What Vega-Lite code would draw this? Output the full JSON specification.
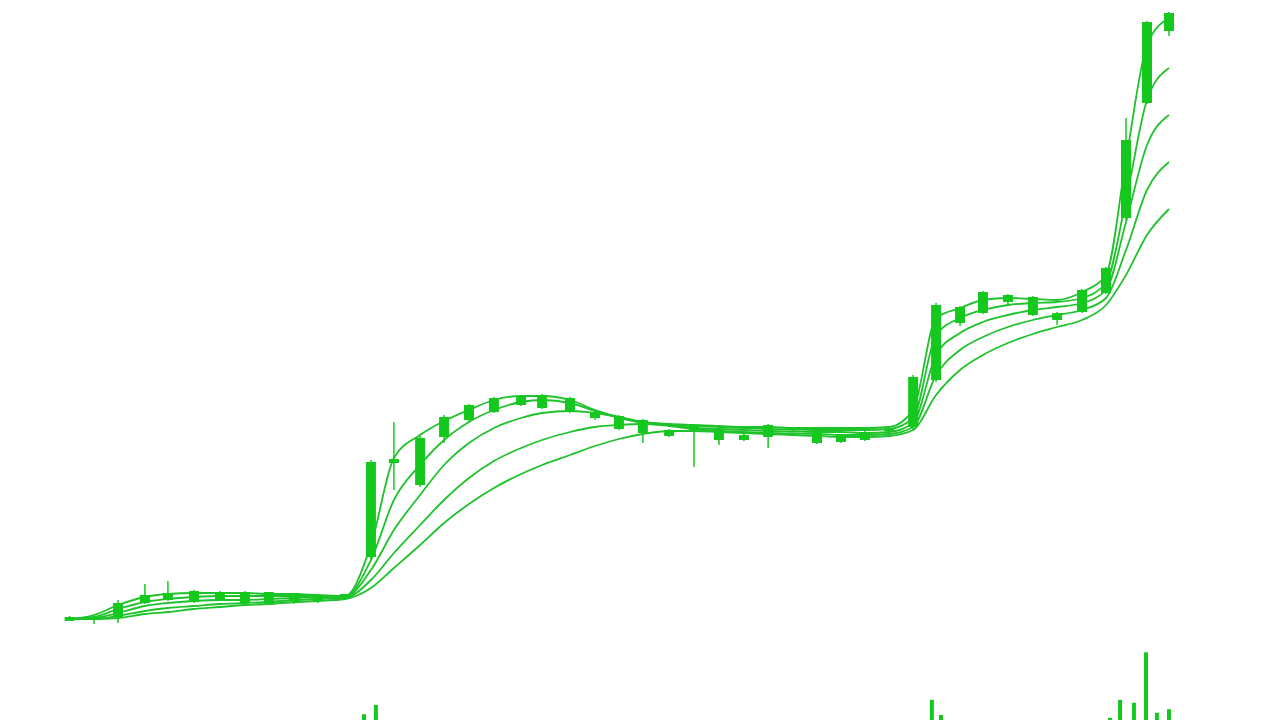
{
  "$schema": "https://vega.github.io/schema/vega-lite/v6.json",
  "width": 1280,
  "height": 720,
  "autosize": {"type": "fit", "contains": "padding"},
  "padding": 0,
  "background": "#ffffff",
  "config": {"view": {"stroke": null}, "scale": {"continuousPadding": 0}},
  "datasets": {
    "candles": [
      {"t":0,"o":9.9,"c":10.3,"h":10.4,"l":9.9,"ma5":10.1,"ma10":10.1,"ma20":10.1,"ma30":10.1,"ma60":10.1},
      {"t":0.99,"o":10.0,"c":10.3,"h":10.3,"l":9.6,"ma5":10.5,"ma10":10.3,"ma20":10.2,"ma30":10.1,"ma60":10.1},
      {"t":1.96,"o":10.3,"c":11.7,"h":12.0,"l":9.7,"ma5":11.5,"ma10":11.1,"ma20":10.7,"ma30":10.4,"ma60":10.2},
      {"t":3.05,"o":11.7,"c":12.5,"h":13.6,"l":11.6,"ma5":12.3,"ma10":11.8,"ma20":11.4,"ma30":10.9,"ma60":10.6},
      {"t":3.98,"o":12.0,"c":12.7,"h":13.9,"l":11.9,"ma5":12.6,"ma10":12.1,"ma20":11.7,"ma30":11.2,"ma60":10.8},
      {"t":5.04,"o":11.8,"c":12.9,"h":13.0,"l":11.7,"ma5":12.7,"ma10":12.3,"ma20":11.9,"ma30":11.4,"ma60":11.1},
      {"t":6.09,"o":12.0,"c":12.8,"h":12.9,"l":11.9,"ma5":12.7,"ma10":12.4,"ma20":12.0,"ma30":11.6,"ma60":11.3},
      {"t":7.10,"o":11.7,"c":12.8,"h":12.9,"l":11.6,"ma5":12.7,"ma10":12.4,"ma20":12.0,"ma30":11.7,"ma60":11.5},
      {"t":8.07,"o":11.7,"c":12.8,"h":12.8,"l":11.6,"ma5":12.6,"ma10":12.4,"ma20":12.1,"ma30":11.8,"ma60":11.6},
      {"t":9.09,"o":11.9,"c":12.7,"h":12.7,"l":11.6,"ma5":12.6,"ma10":12.4,"ma20":12.2,"ma30":12.0,"ma60":11.8},
      {"t":10.06,"o":11.9,"c":12.5,"h":12.5,"l":11.7,"ma5":12.5,"ma10":12.4,"ma20":12.3,"ma30":12.1,"ma60":11.9},
      {"t":11.15,"o":12.3,"c":12.6,"h":12.6,"l":12.2,"ma5":12.4,"ma10":12.4,"ma20":12.3,"ma30":12.2,"ma60":12.1},
      {"t":12.20,"o":16.3,"c":25.8,"h":26.0,"l":16.0,"ma5":17.5,"ma10":16.0,"ma20":15.0,"ma30":14.0,"ma60":13.2},
      {"t":13.13,"o":25.7,"c":26.1,"h":29.8,"l":23.0,"ma5":26.2,"ma10":22.0,"ma20":19.0,"ma30":16.7,"ma60":15.2},
      {"t":14.19,"o":23.5,"c":28.2,"h":28.4,"l":23.3,"ma5":28.5,"ma10":25.5,"ma20":22.5,"ma30":19.5,"ma60":17.5},
      {"t":15.16,"o":28.3,"c":30.3,"h":30.5,"l":27.7,"ma5":29.9,"ma10":28.0,"ma20":25.5,"ma30":22.0,"ma60":19.7},
      {"t":16.17,"o":30.0,"c":31.5,"h":31.6,"l":29.8,"ma5":31.0,"ma10":29.8,"ma20":27.7,"ma30":24.2,"ma60":21.6},
      {"t":17.18,"o":30.8,"c":32.2,"h":32.3,"l":30.7,"ma5":32.0,"ma10":31.0,"ma20":29.2,"ma30":25.9,"ma60":23.2},
      {"t":18.28,"o":31.5,"c":32.3,"h":32.4,"l":31.4,"ma5":32.4,"ma10":31.8,"ma20":30.2,"ma30":27.2,"ma60":24.6},
      {"t":19.13,"o":31.2,"c":32.5,"h":32.6,"l":31.1,"ma5":32.4,"ma10":32.0,"ma20":30.7,"ma30":28.0,"ma60":25.5},
      {"t":20.26,"o":30.8,"c":32.2,"h":32.3,"l":30.7,"ma5":32.0,"ma10":31.7,"ma20":30.9,"ma30":28.8,"ma60":26.5},
      {"t":21.27,"o":30.2,"c":30.8,"h":30.9,"l":30.0,"ma5":31.0,"ma10":30.9,"ma20":30.7,"ma30":29.3,"ma60":27.4},
      {"t":22.24,"o":29.1,"c":30.4,"h":30.5,"l":29.0,"ma5":30.3,"ma10":30.2,"ma20":30.3,"ma30":29.5,"ma60":28.1},
      {"t":23.21,"o":28.7,"c":30.0,"h":30.1,"l":27.7,"ma5":29.8,"ma10":29.7,"ma20":29.8,"ma30":29.6,"ma60":28.6},
      {"t":24.27,"o":28.4,"c":29.0,"h":29.1,"l":28.3,"ma5":29.6,"ma10":29.5,"ma20":29.5,"ma30":29.4,"ma60":28.9},
      {"t":25.28,"o":29.0,"c":29.4,"h":29.6,"l":25.3,"ma5":29.5,"ma10":29.4,"ma20":29.2,"ma30":29.1,"ma60":28.9},
      {"t":26.29,"o":28.0,"c":29.0,"h":29.1,"l":27.5,"ma5":29.4,"ma10":29.3,"ma20":29.1,"ma30":28.9,"ma60":28.8},
      {"t":27.30,"o":28.0,"c":28.5,"h":28.6,"l":27.9,"ma5":29.3,"ma10":29.2,"ma20":29.0,"ma30":28.8,"ma60":28.7},
      {"t":28.28,"o":28.3,"c":29.5,"h":29.6,"l":27.2,"ma5":29.3,"ma10":29.1,"ma20":28.9,"ma30":28.7,"ma60":28.6},
      {"t":29.29,"o":29.0,"c":29.2,"h":29.3,"l":28.9,"ma5":29.2,"ma10":29.05,"ma20":28.85,"ma30":28.65,"ma60":28.5},
      {"t":30.26,"o":27.7,"c":29.0,"h":29.1,"l":27.6,"ma5":29.2,"ma10":29.0,"ma20":28.8,"ma30":28.6,"ma60":28.4},
      {"t":31.23,"o":27.8,"c":28.5,"h":28.6,"l":27.7,"ma5":29.2,"ma10":29.0,"ma20":28.8,"ma30":28.5,"ma60":28.3},
      {"t":32.20,"o":28.0,"c":28.8,"h":28.9,"l":27.9,"ma5":29.2,"ma10":29.0,"ma20":28.7,"ma30":28.5,"ma60":28.3},
      {"t":33.18,"o":28.9,"c":29.1,"h":29.2,"l":28.8,"ma5":29.3,"ma10":29.1,"ma20":28.8,"ma30":28.6,"ma60":28.4},
      {"t":34.15,"o":29.3,"c":34.3,"h":34.5,"l":29.0,"ma5":31.0,"ma10":30.2,"ma20":29.7,"ma30":29.3,"ma60":29.0},
      {"t":35.08,"o":34.0,"c":41.5,"h":41.7,"l":33.8,"ma5":40.2,"ma10":38.5,"ma20":36.5,"ma30":34.5,"ma60":32.5},
      {"t":36.05,"o":39.7,"c":41.3,"h":41.4,"l":39.4,"ma5":41.2,"ma10":40.2,"ma20":38.7,"ma30":37.0,"ma60":35.0},
      {"t":36.98,"o":40.7,"c":42.8,"h":42.9,"l":40.6,"ma5":42.0,"ma10":41.0,"ma20":39.8,"ma30":38.3,"ma60":36.5},
      {"t":37.99,"o":41.8,"c":42.5,"h":42.6,"l":41.5,"ma5":42.2,"ma10":41.5,"ma20":40.5,"ma30":39.3,"ma60":37.7},
      {"t":39.00,"o":40.5,"c":42.3,"h":42.4,"l":40.4,"ma5":42.1,"ma10":41.7,"ma20":41.0,"ma30":40.0,"ma60":38.6},
      {"t":39.98,"o":40.0,"c":40.7,"h":40.8,"l":39.5,"ma5":42.0,"ma10":41.8,"ma20":41.3,"ma30":40.5,"ma60":39.3},
      {"t":40.99,"o":40.8,"c":43.0,"h":43.1,"l":40.7,"ma5":42.8,"ma10":42.2,"ma20":41.7,"ma30":41.0,"ma60":40.0},
      {"t":41.96,"o":42.7,"c":45.2,"h":45.3,"l":42.6,"ma5":44.5,"ma10":43.7,"ma20":43.0,"ma30":42.2,"ma60":41.5},
      {"t":42.77,"o":50.2,"c":58.0,"h":60.2,"l":50.0,"ma5":56.0,"ma10":52.0,"ma20":49.8,"ma30":47.0,"ma60":44.5},
      {"t":43.62,"o":61.7,"c":69.8,"h":69.9,"l":61.6,"ma5":67.5,"ma10":62.0,"ma20":57.5,"ma30":53.0,"ma60":48.5},
      {"t":44.51,"o":68.9,"c":70.7,"h":70.8,"l":68.4,"ma5":70.2,"ma10":65.2,"ma20":60.5,"ma30":55.8,"ma60":51.1}
    ],
    "volume": [
      {"t":11.92,"v":8},
      {"t":12.40,"v":21},
      {"t":34.91,"v":28},
      {"t":35.28,"v":7},
      {"t":42.12,"v":3},
      {"t":42.53,"v":28},
      {"t":43.09,"v":24},
      {"t":43.58,"v":94},
      {"t":44.02,"v":10},
      {"t":44.51,"v":15}
    ]
  },
  "layer": [
    {
      "data": {"name": "volume"},
      "mark": {"type": "bar", "color": "#14c81e", "size": 4},
      "encoding": {
        "x": {"field": "t", "type": "quantitative", "scale": {"domain": [-2.818, 49.004], "nice": false, "zero": false, "padding": 0}, "axis": null},
        "y": {"field": "v", "type": "quantitative", "scale": {"domain": [0, 1000], "nice": false}, "axis": null}
      }
    },
    {
      "layer": [
        {
          "data": {"name": "candles"},
          "transform": [{"fold": ["ma5", "ma10", "ma20", "ma30", "ma60"], "as": ["ma", "price"]}],
          "mark": {"type": "line", "color": "#1ec22b", "strokeWidth": 1.8, "interpolate": "monotone"},
          "encoding": {
            "x": {"field": "t", "type": "quantitative", "scale": {"domain": [-2.818, 49.004], "nice": false, "zero": false, "padding": 0}, "axis": null},
            "y": {"field": "price", "type": "quantitative", "scale": {"domain": [0, 72], "nice": false, "zero": false}, "axis": null},
            "detail": {"field": "ma", "type": "nominal"}
          }
        },
        {
          "data": {"name": "candles"},
          "mark": {"type": "rule", "color": "#14c81e", "strokeWidth": 1.5},
          "encoding": {
            "x": {"field": "t", "type": "quantitative", "scale": {"domain": [-2.818, 49.004], "nice": false, "zero": false, "padding": 0}, "axis": null},
            "y": {"field": "l", "type": "quantitative", "scale": {"domain": [0, 72], "nice": false, "zero": false}, "axis": null},
            "y2": {"field": "h"}
          }
        },
        {
          "data": {"name": "candles"},
          "mark": {"type": "bar", "color": "#14c81e", "size": 10},
          "encoding": {
            "x": {"field": "t", "type": "quantitative", "scale": {"domain": [-2.818, 49.004], "nice": false, "zero": false, "padding": 0}, "axis": null},
            "y": {"field": "o", "type": "quantitative", "scale": {"domain": [0, 72], "nice": false, "zero": false}, "axis": null},
            "y2": {"field": "c"}
          }
        }
      ]
    }
  ],
  "resolve": {"scale": {"y": "independent"}}
}
